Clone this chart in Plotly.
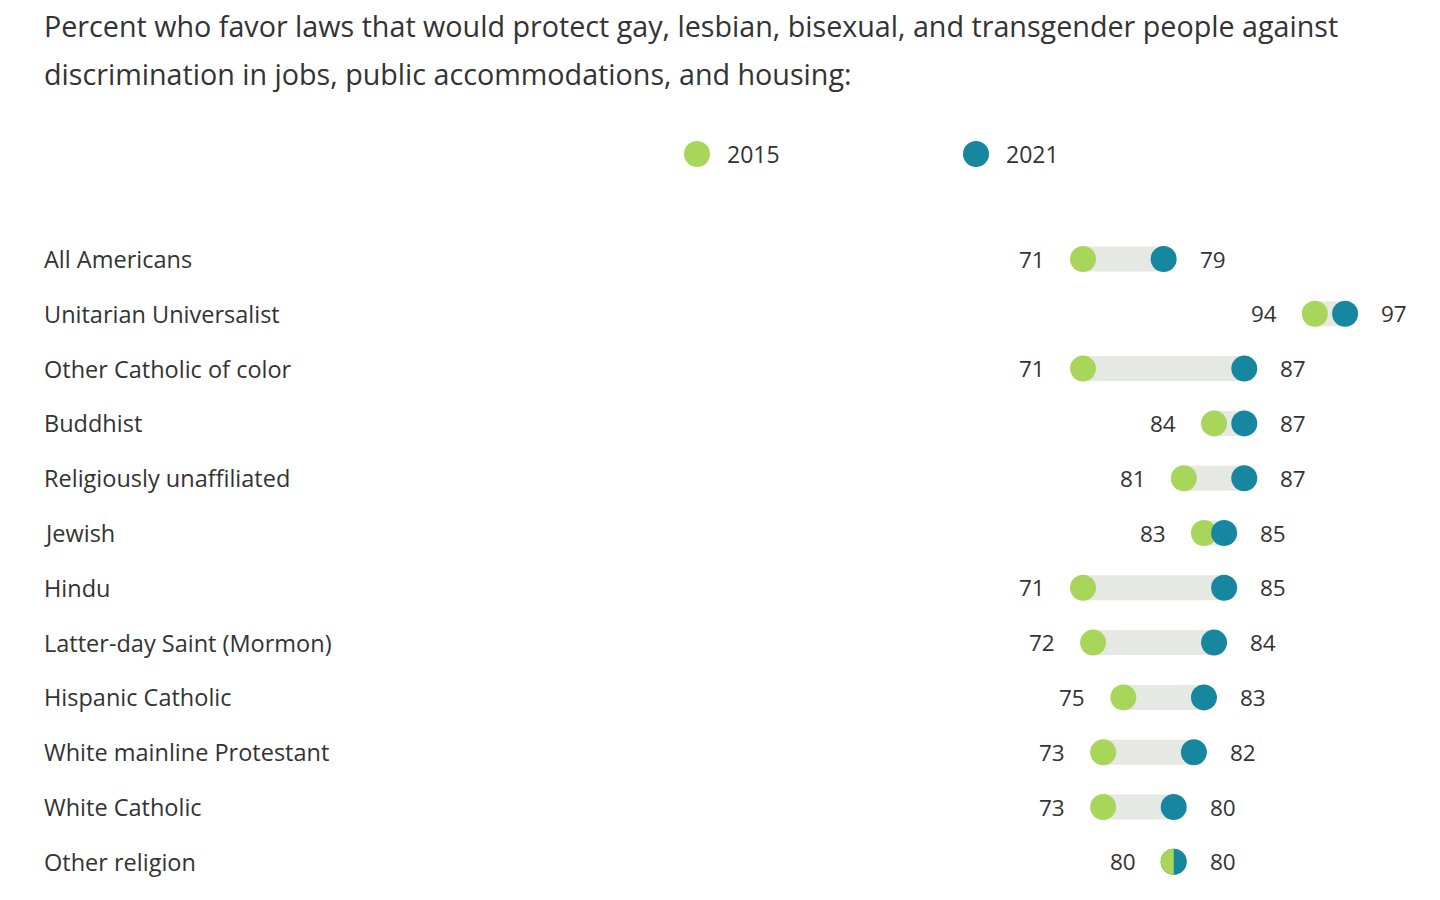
import plotly.graph_objects as go

categories = ["All Americans", "Unitarian Universalist", "Other Catholic of color", "Buddhist",
              "Religiously unaffiliated", "Jewish", "Hindu", "Latter-day Saint (Mormon)",
              "Hispanic Catholic", "White mainline Protestant", "White Catholic", "Other religion"]
v2015 = [71, 94, 71, 84, 81, 83, 71, 72, 75, 73, 73, 80]
v2021 = [79, 97, 87, 87, 87, 85, 85, 84, 83, 82, 80, 80]
series_names = ["2015", "2021"]

W, H = 1440, 900
GREEN = "#a8d65b"
TEAL = "#16879f"
BAR = "#e6e8e3"
TXT = "#333333"
FONT = "Open Sans"
R = 13  # dot radius in px

ys = list(range(len(categories)))

fig = go.Figure()

# grey connecting bars
bx, by = [], []
for i, (a, b) in enumerate(zip(v2015, v2021)):
    bx += [a, b, None]
    by += [i, i, None]
fig.add_trace(go.Scatter(x=bx, y=by, mode="lines", line=dict(color=BAR, width=25),
                         hoverinfo="skip", showlegend=False))

fig.add_trace(go.Scatter(x=v2015, y=ys, mode="markers", name=series_names[0],
                         marker=dict(color=GREEN, size=2 * R, line=dict(width=0)),
                         showlegend=False))
fig.add_trace(go.Scatter(x=v2021, y=ys, mode="markers", name=series_names[1],
                         marker=dict(color=TEAL, size=2 * R, line=dict(width=0)),
                         showlegend=False))

annotations = []
shapes = []

def px_x(px):
    return px / W

def px_y(py):
    return 1 - py / H

# title
annotations.append(dict(xref="paper", yref="paper", x=px_x(42), y=px_y(25), xanchor="left", yanchor="middle",
                        text="Percent who favor laws that would protect gay, lesbian, bisexual, and transgender people against",
                        showarrow=False, font=dict(family=FONT, size=28.7, color=TXT)))
annotations.append(dict(xref="paper", yref="paper", x=px_x(42), y=px_y(73), xanchor="left", yanchor="middle",
                        text="discrimination in jobs, public accommodations, and housing:",
                        showarrow=False, font=dict(family=FONT, size=28.7, color=TXT)))

# legend
for cx, col, name in [(697, GREEN, series_names[0]), (976, TEAL, series_names[1])]:
    shapes.append(dict(type="circle", xref="paper", yref="paper",
                       x0=px_x(cx - R), x1=px_x(cx + R), y0=px_y(154 + R), y1=px_y(154 - R),
                       fillcolor=col, line=dict(width=0)))
    annotations.append(dict(xref="paper", yref="paper", x=px_x(cx + 28), y=px_y(154), xanchor="left",
                            yanchor="middle", text=name, showarrow=False,
                            font=dict(family=FONT, size=23, color=TXT)))

for i, (cat, a, b) in enumerate(zip(categories, v2015, v2021)):
    annotations.append(dict(xref="paper", yref="y", x=px_x(42), y=i, xanchor="left", yanchor="middle",
                            text=cat, showarrow=False, font=dict(family=FONT, size=23.5, color=TXT)))
    lo, hi = min(a, b), max(a, b)
    annotations.append(dict(xref="x", yref="y", x=lo, y=i, xanchor="right", yanchor="middle",
                            xshift=-36, text=str(lo), showarrow=False,
                            font=dict(family=FONT, size=22.5, color=TXT)))
    annotations.append(dict(xref="x", yref="y", x=hi, y=i, xanchor="left", yanchor="middle",
                            xshift=34, text=str(hi), showarrow=False,
                            font=dict(family=FONT, size=22.5, color=TXT)))
    if a == b:
        k = 0.5523 * R
        path = (f"M 0,{R} C {-k},{R} {-R},{k} {-R},0 C {-R},{-k} {-k},{-R} 0,{-R} Z")
        shapes.append(dict(type="path", xref="x", yref="y", xsizemode="pixel", ysizemode="pixel",
                           xanchor=a, yanchor=i, path=path, fillcolor=GREEN, line=dict(width=0),
                           layer="above"))

# pixel mapping: x px = 367.3 + v*10.08 ; y px = 259 + i*54.8
SCALE = 10.08
ORIGIN = 1083 - 71 * SCALE
x_lo = (0 - ORIGIN) / SCALE
x_hi = (W - ORIGIN) / SCALE
y_top = (0 - 259) / 54.8
y_bot = (H - 259) / 54.8

fig.update_layout(
    width=W, height=H,
    margin=dict(l=0, r=0, t=0, b=0),
    paper_bgcolor="white", plot_bgcolor="white",
    xaxis=dict(range=[x_lo, x_hi], visible=False, fixedrange=True),
    yaxis=dict(range=[y_bot, y_top], visible=False, fixedrange=True),
    annotations=annotations, shapes=shapes,
    showlegend=False,
    font=dict(family=FONT, color=TXT),
)

fig.write_html("out.html")
